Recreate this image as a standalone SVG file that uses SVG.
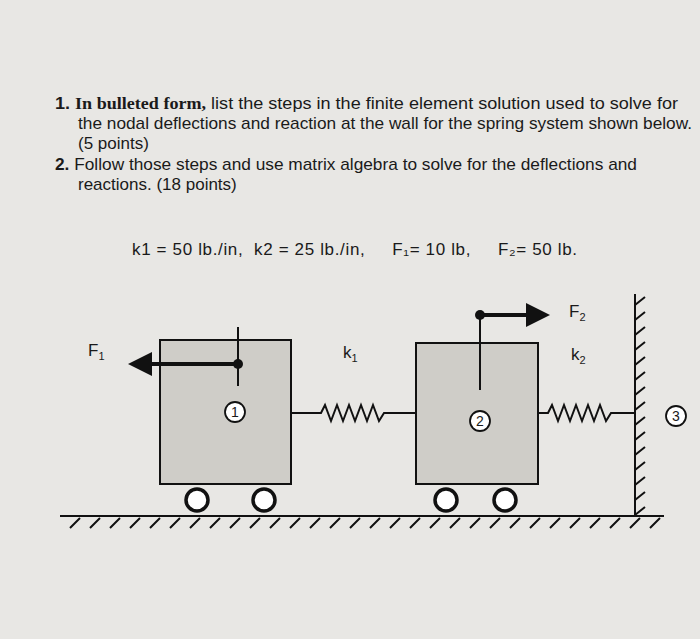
<svg xmlns="http://www.w3.org/2000/svg" width="700" height="639" viewBox="0 0 700 639">
<style>
text{font-family:"Liberation Sans",Arial,sans-serif;fill:#1a1a1a}
.t{font-size:17px}
.l{font-size:14px}
.box{fill:#cfcdc8;stroke:#111;stroke-width:2}
.ln{stroke:#111;stroke-width:2;fill:none}
.w{fill:#fff;stroke:#111;stroke-width:3.5}
.n{fill:#fff;stroke:#111;stroke-width:1.8}
</style>
<defs>
<marker id="ah" markerWidth="6" markerHeight="6" refX="5" refY="3" orient="auto" markerUnits="strokeWidth"><path d="M0,0 L6,3 L0,6 Z" fill="#111"/></marker>
</defs>
<rect width="700" height="639" fill="#e8e7e4"/>
<g id="text">
<text class="t" x="55" y="109" textLength="623" lengthAdjust="spacingAndGlyphs"><tspan font-weight="bold">1.</tspan>  <tspan font-family="Liberation Serif" font-weight="bold">In bulleted form,</tspan> list the steps in the finite element solution used to solve for</text>
<text class="t" x="78" y="129" textLength="614" lengthAdjust="spacingAndGlyphs">the nodal deflections and reaction at the wall for the spring system shown below.</text>
<text class="t" x="78" y="149">(5 points)</text>
<text class="t" x="55" y="170" textLength="582" lengthAdjust="spacingAndGlyphs"><tspan font-weight="bold">2.</tspan>  Follow those steps and use matrix algebra to solve for the deflections and</text>
<text class="t" x="78" y="190">reactions. (18 points)</text>
<text class="t" x="132" y="255" xml:space="preserve" textLength="445" lengthAdjust="spacing">k1 = 50 lb./in,  k2 = 25 lb./in,     F₁= 10 lb,     F₂= 50 lb.</text>
</g>
<g id="ground">
<line class="ln" x1="60" y1="516" x2="664" y2="516"/>
<path class="ln" stroke-width="1.5" d="M70,528l10,-10M90,528l10,-10M110,528l10,-10M130,528l10,-10M150,528l10,-10M170,528l10,-10M190,528l10,-10M210,528l10,-10M230,528l10,-10M250,528l10,-10M270,528l10,-10M290,528l10,-10M310,528l10,-10M330,528l10,-10M350,528l10,-10M370,528l10,-10M390,528l10,-10M410,528l10,-10M430,528l10,-10M450,528l10,-10M470,528l10,-10M490,528l10,-10M510,528l10,-10M530,528l10,-10M550,528l10,-10M570,528l10,-10M590,528l10,-10M610,528l10,-10M630,528l10,-10M650,528l10,-10"/>
</g>
<g id="wall">
<line class="ln" x1="635" y1="294" x2="635" y2="516"/>
<path class="ln" stroke-width="1.5" d="M635,305l10,-8M635,320l10,-8M635,335l10,-8M635,350l10,-8M635,365l10,-8M635,380l10,-8M635,395l10,-8M635,410l10,-8M635,425l10,-8M635,440l10,-8M635,455l10,-8M635,470l10,-8M635,485l10,-8M635,500l10,-8M635,515l10,-8"/>
</g>
<g id="connectors">
<path class="ln" d="M291,413 H321 l4,-8 l6,16 l6,-16 l6,16 l6,-16 l6,16 l6,-16 l6,16 l6,-16 l6,16 l5,-8 H416"/>
<path class="ln" d="M538,413 H548 l4,-8 l6,16 l6,-16 l6,16 l6,-16 l6,16 l6,-16 l6,16 l6,-16 l6,16 l5,-8 H635"/>
</g>
<g id="mass1">
<rect class="box" x="160" y="340" width="131" height="144"/>
<circle class="w" cx="197" cy="500" r="11"/>
<circle class="w" cx="264" cy="500" r="11"/>
<line class="ln" x1="238" y1="327" x2="238" y2="386"/>
<line x1="238" y1="364" x2="132" y2="364" stroke="#111" stroke-width="4" marker-end="url(#ah)"/>
<circle cx="238" cy="364" r="5" fill="#111"/>
<circle class="n" cx="235" cy="412" r="10"/>
<text class="l" x="235" y="417" text-anchor="middle">1</text>
<text class="t" x="88" y="356">F<tspan font-size="11" dy="4">1</tspan></text>
</g>
<g id="mass2">
<rect class="box" x="416" y="343" width="122" height="141"/>
<circle class="w" cx="446" cy="500" r="11"/>
<circle class="w" cx="505" cy="500" r="11"/>
<line class="ln" x1="480" y1="315" x2="480" y2="390"/>
<line x1="480" y1="315" x2="546" y2="315" stroke="#111" stroke-width="4" marker-end="url(#ah)"/>
<circle cx="480" cy="315" r="5" fill="#111"/>
<circle class="n" cx="480" cy="421" r="10"/>
<text class="l" x="480" y="426" text-anchor="middle">2</text>
<text class="t" x="569" y="317">F<tspan font-size="11" dy="4">2</tspan></text>
</g>
<g id="labels">
<text class="t" x="343" y="358">k<tspan font-size="11" dy="4">1</tspan></text>
<text class="t" x="571" y="360">k<tspan font-size="11" dy="4">2</tspan></text>
</g>
<g id="node3">
<circle class="n" cx="676" cy="416" r="10"/>
<text class="l" x="676" y="421" text-anchor="middle">3</text>
</g>
</svg>
